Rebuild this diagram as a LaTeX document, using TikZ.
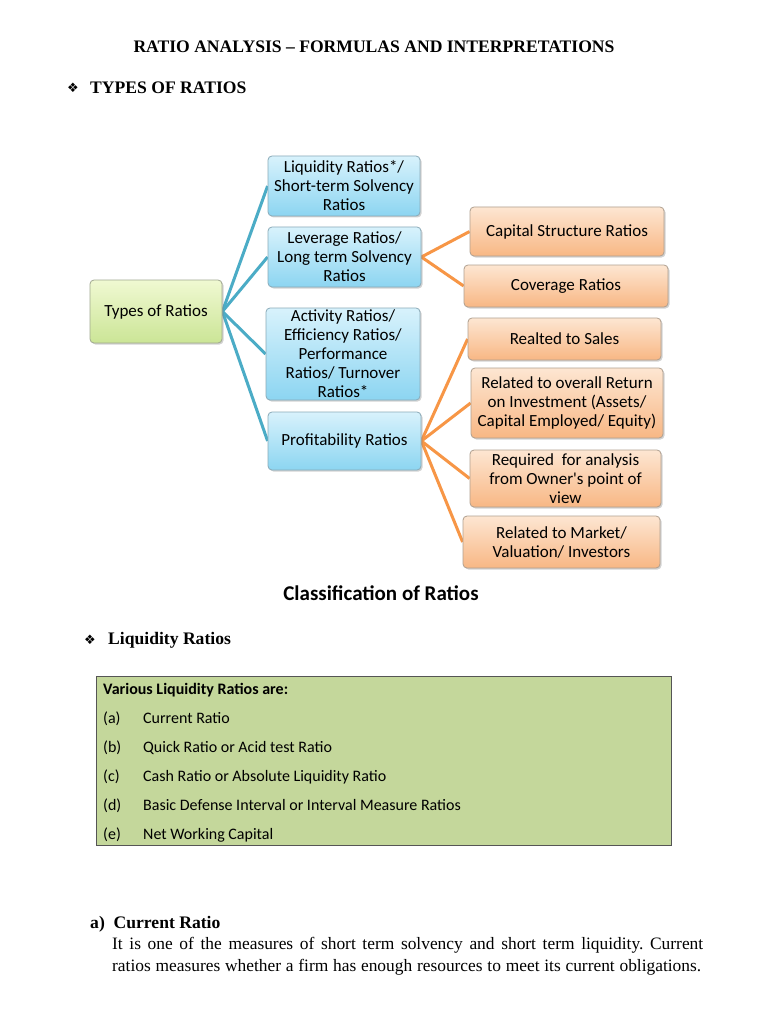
\documentclass[tikz,border=0pt]{standalone}
\usepackage{fontspec}
\setmainfont{Liberation Serif}
\newfontfamily\calibrifont{Carlito}
\newfontfamily\dingfont{DejaVu Sans}
\usetikzlibrary{shadows,backgrounds}
\frenchspacing
\definecolor{bluetop}{HTML}{D8F2FC}
\definecolor{bluebot}{HTML}{8CD5F1}
\definecolor{blueedge}{HTML}{8AAAB8}
\definecolor{orangetop}{HTML}{FDE6D2}
\definecolor{orangebot}{HTML}{F8B784}
\definecolor{orangeedge}{HTML}{B0A090}
\definecolor{greentop}{HTML}{F0F9D2}
\definecolor{greenbot}{HTML}{CBE596}
\definecolor{greenedge}{HTML}{A0A890}
\definecolor{blueline}{HTML}{4BACC6}
\definecolor{orangeline}{HTML}{F79646}
\definecolor{listfill}{HTML}{C4D79B}
\definecolor{listedge}{HTML}{555555}
\tikzset{
  boxbase/.style={rounded corners=4pt, draw, line width=0.8pt, align=center,
    font=\calibrifont\fontsize{17}{19}\selectfont, inner sep=1pt,
    drop shadow={opacity=0.35, shadow xshift=1.5pt, shadow yshift=-1.5pt}},
  bluebox/.style={boxbase, draw=blueedge, top color=bluetop, bottom color=bluebot},
  orangebox/.style={boxbase, draw=orangeedge, top color=orangetop, bottom color=orangebot},
  greenbox/.style={boxbase, draw=greenedge, top color=greentop, bottom color=greenbot},
  bline/.style={draw=blueline, line width=3pt},
  oline/.style={draw=orangeline, line width=3pt},
  serifbold/.style={font=\fontsize{17.6}{20}\selectfont\bfseries, inner sep=0pt},
  seriftext/.style={font=\fontsize{17.4}{20}\selectfont, inner sep=0pt},
  listtext/.style={font=\calibrifont\fontsize{16}{19}\selectfont, inner sep=0pt, anchor=base west},
}
\begin{document}
\begin{tikzpicture}[x=1pt,y=-1pt]
\useasboundingbox (0,0) rectangle (768,1024);

% headings
\node[serifbold] (title) at (374,47) {RATIO ANALYSIS -- FORMULAS AND INTERPRETATIONS};
\node[inner sep=0pt, font=\dingfont\fontsize{13}{14}\selectfont] (d1) at (73,88) {❖};
\node[serifbold, anchor=west] (types) at (90,88) {TYPES OF RATIOS};

% diagram nodes
\node[greenbox, minimum width=132pt, minimum height=63pt] (root) at (156,311.5) {Types of Ratios};
\node[bluebox, minimum width=152pt, minimum height=60pt] (liq) at (344,186) {Liquidity Ratios*/\\Short-term Solvency\\Ratios};
\node[bluebox, minimum width=153pt, minimum height=60pt] (lev) at (344.5,257) {Leverage Ratios/\\Long term Solvency\\Ratios};
\node[bluebox, minimum width=154pt, minimum height=92pt, inner sep=0pt] (act) at (343,354) {Activity Ratios/\\Efficiency Ratios/\\Performance\\Ratios/ Turnover\\Ratios*};
\node[bluebox, minimum width=153pt, minimum height=58pt] (pro) at (344.5,441) {Profitability Ratios};

\node[orangebox, minimum width=194pt, minimum height=49pt] (cap) at (567,231.5) {Capital Structure Ratios};
\node[orangebox, minimum width=204pt, minimum height=42pt] (cov) at (566,286) {Coverage Ratios};
\node[orangebox, minimum width=193pt, minimum height=42pt] (sal) at (564.5,339) {Realted to Sales};
\node[orangebox, minimum width=192pt, minimum height=70pt] (roi) at (567,403) {Related to overall Return\\on Investment (Assets/\\Capital Employed/ Equity)};
\node[orangebox, minimum width=191pt, minimum height=57pt, inner sep=0pt] (own) at (565.5,478.5) {Required\ \ for analysis\\from Owner's point of\\view};
\node[orangebox, minimum width=197pt, minimum height=52pt] (mkt) at (561.5,542) {Related to Market/\\Valuation/ Investors};

\begin{pgfonlayer}{background}
\fill[white] (0,0) rectangle (768,1024);
\draw[bline] (root.east) -- (liq.west);
\draw[bline] (root.east) -- (lev.west);
\draw[bline] (root.east) -- (act.west);
\draw[bline] (root.east) -- (pro.west);
\draw[oline] (lev.east) -- (cap.west);
\draw[oline] (lev.east) -- (cov.west);
\draw[oline] (pro.east) -- (sal.west);
\draw[oline] (pro.east) -- (roi.west);
\draw[oline] (pro.east) -- (own.west);
\draw[oline] (pro.east) -- (mkt.west);
\end{pgfonlayer}

\node[inner sep=0pt, font=\calibrifont\bfseries\fontsize{21}{24}\selectfont] (cap1) at (381,593) {Classification of Ratios};

% Liquidity ratios heading
\node[inner sep=0pt, font=\dingfont\fontsize{13}{14}\selectfont] (d2) at (90,640) {❖};
\node[serifbold, anchor=west] (liqhead) at (108,640) {Liquidity Ratios};

% list box
\node[draw=listedge, fill=listfill, line width=0.8pt, minimum width=575pt, minimum height=169pt, inner sep=0pt] (list) at (383.5,760.5) {};
\node[listtext, font=\calibrifont\bfseries\fontsize{16}{19}\selectfont] (lhead) at (103,694) {Various Liquidity Ratios are:};
\node[listtext] (la) at (103,723) {(a)};
\node[listtext] (lat) at (143,723) {Current Ratio};
\node[listtext] (lb) at (103,752) {(b)};
\node[listtext] (lbt) at (143,752) {Quick Ratio or Acid test Ratio};
\node[listtext] (lc) at (103,781) {(c)};
\node[listtext] (lct) at (143,781) {Cash Ratio or Absolute Liquidity Ratio};
\node[listtext] (ld) at (103,810) {(d)};
\node[listtext] (ldt) at (143,810) {Basic Defense Interval or Interval Measure Ratios};
\node[listtext] (le) at (103,839) {(e)};
\node[listtext] (let) at (143,839) {Net Working Capital};

% current ratio
\node[serifbold, anchor=base west] (cr) at (90,928) {a)\ \ Current Ratio};
\node[seriftext, anchor=base west] (p1) at (112,949) {\makebox[591pt][s]{It is one of the measures of short term solvency and short term liquidity. Current}};
\node[seriftext, anchor=base west] (p2) at (112,971) {\makebox[589pt][s]{ratios measures whether a firm has enough resources to meet its current obligations.}};
\end{tikzpicture}
\end{document}
